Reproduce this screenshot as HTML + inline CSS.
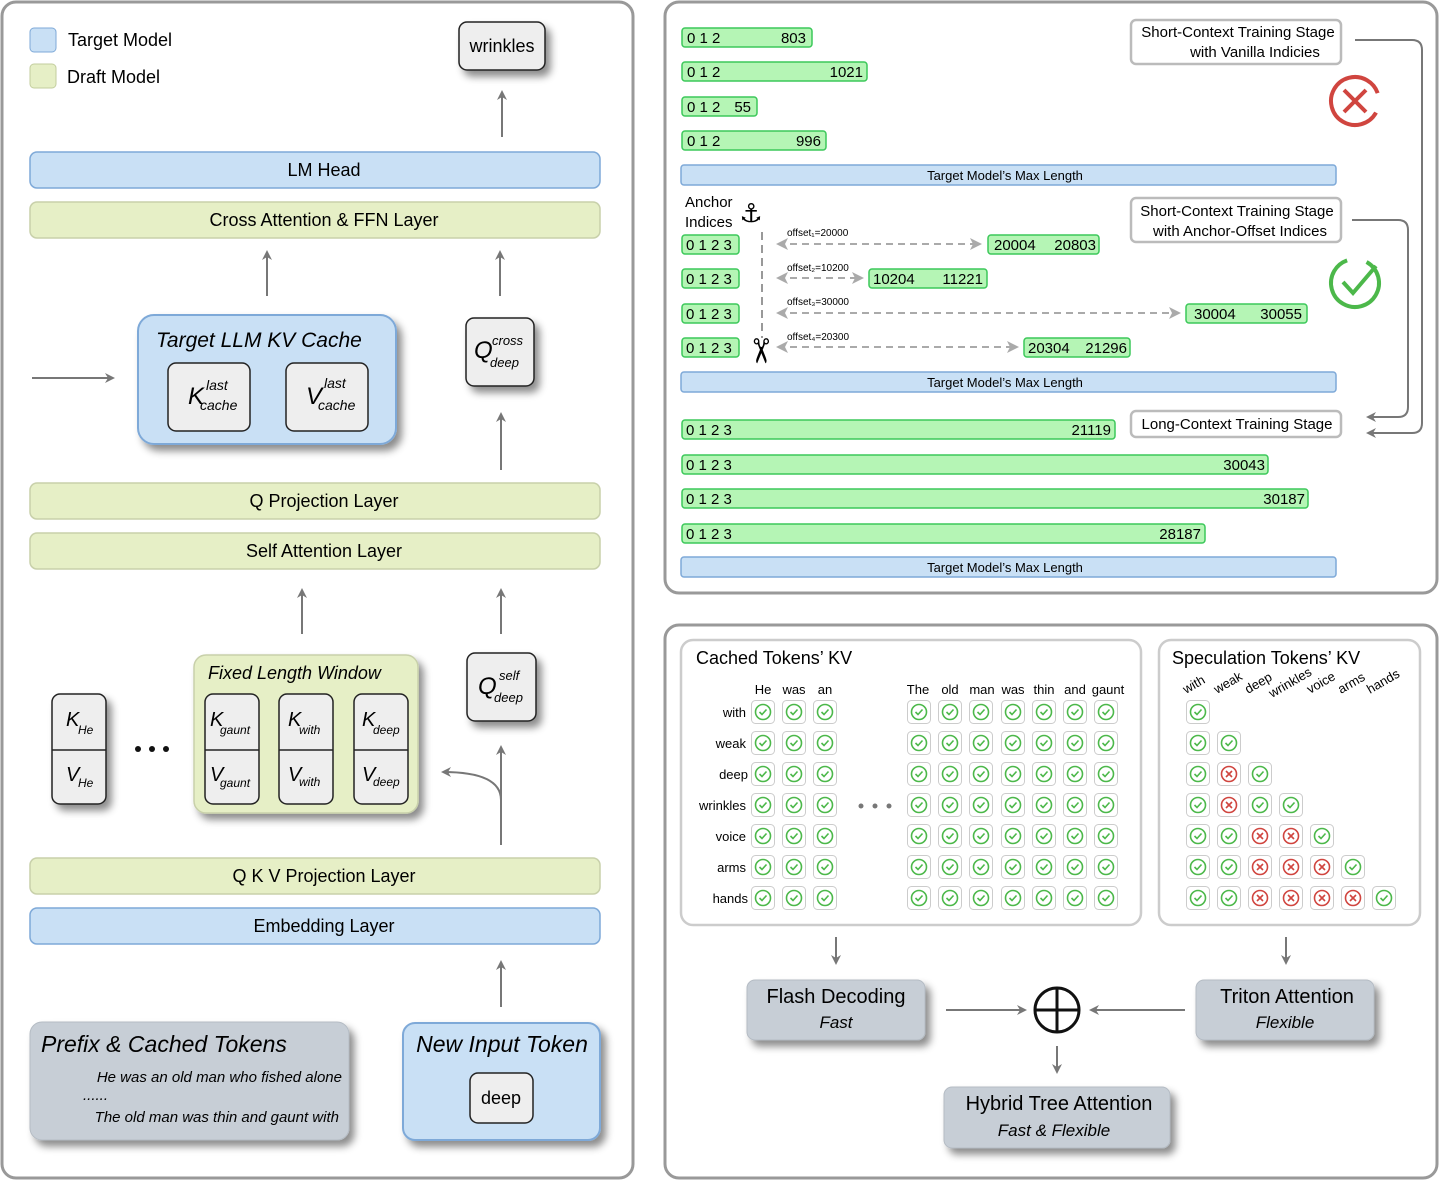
<!DOCTYPE html>
<html><head><meta charset="utf-8"><style>
html,body{margin:0;padding:0;background:#fff;}
svg{display:block;font-family:"Liberation Sans",sans-serif;}
</style></head><body>
<svg width="1440" height="1182" viewBox="0 0 1440 1182" xmlns="http://www.w3.org/2000/svg">
<defs>
<filter id="sh" x="-20%" y="-20%" width="150%" height="160%"><feDropShadow dx="5" dy="6" stdDeviation="4" flood-color="#000" flood-opacity="0.45"/></filter>
<marker id="ah" markerWidth="10" markerHeight="10" refX="8" refY="5" orient="auto" markerUnits="userSpaceOnUse"><path d="M0,0 L10,5 L0,10 L3,5 z" fill="#777"/></marker>
<marker id="ag" markerWidth="12" markerHeight="12" refX="10" refY="6" orient="auto-start-reverse" markerUnits="userSpaceOnUse"><path d="M0,0 L12,6 L0,12 L3,6 z" fill="#aaa"/></marker>
<g id="ok"><rect x="0.5" y="0.5" width="23" height="23" rx="4" fill="#fff" stroke="#ccc"/><circle cx="12" cy="12" r="7.5" fill="none" stroke="#4cb84a" stroke-width="1.6"/><path d="M8.5,12 L11,14.5 L15.5,9.5" fill="none" stroke="#4cb84a" stroke-width="1.6"/></g>
<g id="no"><rect x="0.5" y="0.5" width="23" height="23" rx="4" fill="#fff" stroke="#ccc"/><circle cx="12" cy="12" r="7.5" fill="none" stroke="#d0453f" stroke-width="1.6"/><path d="M9,9 L15,15 M15,9 L9,15" stroke="#d0453f" stroke-width="1.6"/></g>
<g id="crow">
<use href="#ok" x="751" y="0"/><use href="#ok" x="782" y="0"/><use href="#ok" x="813" y="0"/>
<use href="#ok" x="907" y="0"/><use href="#ok" x="938" y="0"/><use href="#ok" x="969" y="0"/><use href="#ok" x="1001" y="0"/><use href="#ok" x="1032" y="0"/><use href="#ok" x="1063" y="0"/><use href="#ok" x="1094" y="0"/>
</g>
</defs>

<!-- panels -->
<rect x="2" y="2" width="631" height="1176" rx="14" fill="#fff" stroke="#999" stroke-width="3"/>
<rect x="665" y="2" width="772" height="591" rx="14" fill="#fff" stroke="#999" stroke-width="3"/>
<rect x="665" y="625" width="772" height="553" rx="14" fill="#fff" stroke="#999" stroke-width="3"/>

<!-- LEFT -->
<rect x="30" y="28" width="26" height="24" rx="4" fill="#c9e0f5" stroke="#7ea9d8"/>
<text x="68" y="46" font-size="18">Target Model</text>
<rect x="30" y="64" width="26" height="24" rx="4" fill="#e6efc6" stroke="#c3ce9e"/>
<text x="67" y="83" font-size="18">Draft Model</text>

<rect x="459" y="22" width="86" height="48" rx="8" fill="#eee" stroke="#222" stroke-width="1.5" filter="url(#sh)"/>
<text x="502" y="52" font-size="18" text-anchor="middle">wrinkles</text>
<line x1="502" y1="137" x2="502" y2="92" stroke="#777" stroke-width="2" marker-end="url(#ah)"/>

<rect x="30" y="152" width="570" height="36" rx="7" fill="#c9e0f5" stroke="#7ea9d8" stroke-width="1.5"/>
<text x="324" y="176" font-size="18" text-anchor="middle">LM Head</text>
<rect x="30" y="202" width="570" height="36" rx="7" fill="#e6efc6" stroke="#c8d0aa" stroke-width="1.5"/>
<text x="324" y="226" font-size="18" text-anchor="middle">Cross Attention &amp; FFN Layer</text>

<line x1="267" y1="296" x2="267" y2="252" stroke="#777" stroke-width="2" marker-end="url(#ah)"/>
<line x1="500" y1="296" x2="500" y2="252" stroke="#777" stroke-width="2" marker-end="url(#ah)"/>

<rect x="138" y="315" width="258" height="129" rx="16" fill="#c9e0f5" stroke="#7ea9d8" stroke-width="2" filter="url(#sh)"/>
<text x="156" y="347" font-size="21" font-style="italic">Target LLM KV Cache</text>
<rect x="168" y="363" width="82" height="68" rx="8" fill="#eee" stroke="#222" stroke-width="1.5"/>
<text x="188" y="404" font-size="24" font-style="italic">K</text><text x="206" y="390" font-size="14" font-style="italic">last</text><text x="200" y="410" font-size="14" font-style="italic">cache</text>
<rect x="286" y="363" width="82" height="68" rx="8" fill="#eee" stroke="#222" stroke-width="1.5"/>
<text x="306" y="404" font-size="24" font-style="italic">V</text><text x="324" y="388" font-size="14" font-style="italic">last</text><text x="318" y="410" font-size="14" font-style="italic">cache</text>
<line x1="32" y1="378" x2="113" y2="378" stroke="#777" stroke-width="2" marker-end="url(#ah)"/>

<rect x="466" y="318" width="68" height="68" rx="8" fill="#eee" stroke="#222" stroke-width="1.5" filter="url(#sh)"/>
<text x="474" y="358" font-size="24" font-style="italic">Q</text><text x="492" y="345" font-size="13" font-style="italic">cross</text><text x="490" y="367" font-size="13" font-style="italic">deep</text>
<line x1="501" y1="470" x2="501" y2="414" stroke="#777" stroke-width="2" marker-end="url(#ah)"/>

<rect x="30" y="483" width="570" height="36" rx="7" fill="#e6efc6" stroke="#c8d0aa" stroke-width="1.5"/>
<text x="324" y="507" font-size="18" text-anchor="middle">Q Projection Layer</text>
<rect x="30" y="533" width="570" height="36" rx="7" fill="#e6efc6" stroke="#c8d0aa" stroke-width="1.5"/>
<text x="324" y="557" font-size="18" text-anchor="middle">Self Attention Layer</text>

<line x1="302" y1="634" x2="302" y2="590" stroke="#777" stroke-width="2" marker-end="url(#ah)"/>
<line x1="501" y1="634" x2="501" y2="590" stroke="#777" stroke-width="2" marker-end="url(#ah)"/>

<rect x="194" y="655" width="224" height="158" rx="12" fill="#e6efc6" stroke="#c8d0aa" stroke-width="1.5" filter="url(#sh)"/>
<text x="208" y="679" font-size="18" font-style="italic">Fixed Length Window</text>
<g font-style="italic">
<rect x="205" y="694" width="54" height="110" rx="8" fill="#eee" stroke="#222" stroke-width="1.5"/><line x1="205" y1="750" x2="259" y2="750" stroke="#222" stroke-width="1.5"/>
<text x="210" y="726" font-size="20">K</text><text x="220" y="734" font-size="12">gaunt</text>
<text x="210" y="781" font-size="20">V</text><text x="220" y="787" font-size="12">gaunt</text>
<rect x="279" y="694" width="54" height="110" rx="8" fill="#eee" stroke="#222" stroke-width="1.5"/><line x1="279" y1="750" x2="333" y2="750" stroke="#222" stroke-width="1.5"/>
<text x="288" y="726" font-size="20">K</text><text x="299" y="734" font-size="12">with</text>
<text x="288" y="781" font-size="20">V</text><text x="299" y="786" font-size="12">with</text>
<rect x="354" y="694" width="54" height="110" rx="8" fill="#eee" stroke="#222" stroke-width="1.5"/><line x1="354" y1="750" x2="408" y2="750" stroke="#222" stroke-width="1.5"/>
<text x="362" y="726" font-size="20">K</text><text x="373" y="734" font-size="12">deep</text>
<text x="362" y="781" font-size="20">V</text><text x="373" y="786" font-size="12">deep</text>
<rect x="52" y="694" width="54" height="110" rx="8" fill="#eee" stroke="#222" stroke-width="1.5" filter="url(#sh)"/><line x1="52" y1="750" x2="106" y2="750" stroke="#222" stroke-width="1.5"/>
<text x="66" y="726" font-size="20">K</text><text x="78" y="734" font-size="12">He</text>
<text x="66" y="781" font-size="20">V</text><text x="78" y="787" font-size="12">He</text>
</g>
<circle cx="138" cy="749" r="3" fill="#111"/><circle cx="152" cy="749" r="3" fill="#111"/><circle cx="166" cy="749" r="3" fill="#111"/>

<rect x="467" y="653" width="69" height="68" rx="8" fill="#eee" stroke="#222" stroke-width="1.5" filter="url(#sh)"/>
<text x="478" y="694" font-size="24" font-style="italic">Q</text><text x="499" y="680" font-size="13" font-style="italic">self</text><text x="494" y="702" font-size="13" font-style="italic">deep</text>
<line x1="501" y1="845" x2="501" y2="747" stroke="#777" stroke-width="2" marker-end="url(#ah)"/>
<path d="M501,845 L501,800 Q501,772 443,772" fill="none" stroke="#777" stroke-width="2" marker-end="url(#ah)"/>

<rect x="30" y="858" width="570" height="36" rx="7" fill="#e6efc6" stroke="#c8d0aa" stroke-width="1.5"/>
<text x="324" y="882" font-size="18" text-anchor="middle">Q K V Projection Layer</text>
<rect x="30" y="908" width="570" height="36" rx="7" fill="#c9e0f5" stroke="#7ea9d8" stroke-width="1.5"/>
<text x="324" y="932" font-size="18" text-anchor="middle">Embedding Layer</text>
<line x1="501" y1="1007" x2="501" y2="962" stroke="#777" stroke-width="2" marker-end="url(#ah)"/>

<rect x="30" y="1022" width="319" height="118" rx="12" fill="#c7ced6" stroke="#b5bcc4" filter="url(#sh)"/>
<text x="41" y="1052" font-size="23" font-style="italic">Prefix &amp; Cached Tokens</text>
<g font-size="15" font-style="italic" text-anchor="end">
<text x="342" y="1082">He was an old man who fished alone</text>
<text x="108" y="1100">......</text>
<text x="339" y="1122">The old man was thin and gaunt with</text>
</g>
<rect x="403" y="1023" width="197" height="117" rx="12" fill="#c9e0f5" stroke="#7ea9d8" stroke-width="2" filter="url(#sh)"/>
<text x="502" y="1052" font-size="23" font-style="italic" text-anchor="middle">New Input Token</text>
<rect x="470" y="1073" width="63" height="50" rx="8" fill="#eee" stroke="#222" stroke-width="1.5"/>
<text x="501" y="1104" font-size="18" text-anchor="middle">deep</text>

<!-- RIGHT TOP -->
<g fill="#b5f5b5" stroke="#3cc85a" stroke-width="1.5">
<rect x="682" y="28" width="130" height="19" rx="3"/>
<rect x="682" y="62" width="185" height="19" rx="3"/>
<rect x="682" y="97" width="75" height="19" rx="3"/>
<rect x="682" y="131" width="144" height="19" rx="3"/>
<rect x="682" y="235" width="57" height="19" rx="3"/>
<rect x="682" y="269" width="57" height="19" rx="3"/>
<rect x="682" y="304" width="57" height="19" rx="3"/>
<rect x="682" y="338" width="57" height="19" rx="3"/>
<rect x="988" y="235" width="111" height="19" rx="3"/>
<rect x="869" y="269" width="118" height="19" rx="3"/>
<rect x="1186" y="304" width="121" height="19" rx="3"/>
<rect x="1024" y="338" width="106" height="19" rx="3"/>
<rect x="682" y="420" width="433" height="19" rx="3"/>
<rect x="682" y="455" width="586" height="19" rx="3"/>
<rect x="682" y="489" width="626" height="19" rx="3"/>
<rect x="682" y="524" width="523" height="19" rx="3"/>
</g>
<g font-size="15">
<text x="687" y="43">0 1 2</text><text x="806" y="43" text-anchor="end">803</text>
<text x="687" y="77">0 1 2</text><text x="863" y="77" text-anchor="end">1021</text>
<text x="687" y="112">0 1 2</text><text x="751" y="112" text-anchor="end">55</text>
<text x="687" y="146">0 1 2</text><text x="821" y="146" text-anchor="end">996</text>
<text x="686" y="250">0 1 2 3</text><text x="686" y="284">0 1 2 3</text><text x="686" y="319">0 1 2 3</text><text x="686" y="353">0 1 2 3</text>
<text x="994" y="250">20004</text><text x="1096" y="250" text-anchor="end">20803</text>
<text x="873" y="284">10204</text><text x="983" y="284" text-anchor="end">11221</text>
<text x="1194" y="319">30004</text><text x="1302" y="319" text-anchor="end">30055</text>
<text x="1028" y="353">20304</text><text x="1127" y="353" text-anchor="end">21296</text>
<text x="686" y="435">0 1 2 3</text><text x="1111" y="435" text-anchor="end">21119</text>
<text x="686" y="470">0 1 2 3</text><text x="1265" y="470" text-anchor="end">30043</text>
<text x="686" y="504">0 1 2 3</text><text x="1305" y="504" text-anchor="end">30187</text>
<text x="686" y="539">0 1 2 3</text><text x="1201" y="539" text-anchor="end">28187</text>
</g>
<g fill="#c9e0f5" stroke="#7ea9d8" stroke-width="1.5">
<rect x="681" y="165" width="655" height="20" rx="3"/>
<rect x="681" y="372" width="655" height="20" rx="3"/>
<rect x="681" y="557" width="655" height="20" rx="3"/>
</g>
<g font-size="13" text-anchor="middle">
<text x="1005" y="180">Target Model’s Max Length</text>
<text x="1005" y="387">Target Model’s Max Length</text>
<text x="1005" y="572">Target Model’s Max Length</text>
</g>
<g fill="#fff" stroke="#bbb" stroke-width="2.5">
<rect x="1131" y="20" width="210" height="44" rx="5"/>
<rect x="1131" y="198" width="210" height="44" rx="5"/>
<rect x="1131" y="411" width="210" height="26" rx="5"/>
</g>
<g font-size="15" text-anchor="middle">
<text x="1238" y="37">Short-Context Training Stage</text><text x="1255" y="57">with Vanilla Indicies</text>
<text x="1237" y="216">Short-Context Training Stage</text><text x="1240" y="236">with Anchor-Offset Indices</text>
<text x="1237" y="429">Long-Context Training Stage</text>
</g>
<path d="M1355,40 L1412,40 Q1422,40 1422,50 L1422,423 Q1422,433 1412,433 L1368,433" fill="none" stroke="#777" stroke-width="2" marker-end="url(#ah)"/>
<path d="M1352,220 L1398,220 Q1408,220 1408,230 L1408,407 Q1408,417 1398,417 L1368,417" fill="none" stroke="#777" stroke-width="2" marker-end="url(#ah)"/>
<circle cx="1355" cy="101" r="24" fill="none" stroke="#d0453f" stroke-width="4" stroke-dasharray="130 20" transform="rotate(30 1355 101)"/>
<path d="M1344,90 L1366,112 M1366,90 L1344,112" stroke="#d0453f" stroke-width="4"/>
<circle cx="1355" cy="283" r="24" fill="none" stroke="#4cb84a" stroke-width="4" stroke-dasharray="130 20" transform="rotate(-60 1355 283)"/>
<path d="M1343,282 L1353,293 L1376,266" fill="none" stroke="#4cb84a" stroke-width="4"/>

<text x="685" y="207" font-size="15">Anchor</text><text x="685" y="227" font-size="15">Indices</text>
<text x="751" y="222" font-size="26" text-anchor="middle" fill="#000" font-weight="bold" style="font-family:'DejaVu Sans',sans-serif">⚓︎</text>
<line x1="762" y1="232" x2="762" y2="338" stroke="#999" stroke-width="2" stroke-dasharray="8 5"/>
<text x="761" y="363" font-size="34" text-anchor="middle" fill="#000" transform="rotate(90 761 351)" style="font-family:'DejaVu Sans',sans-serif">✂︎</text>
<g stroke="#aaa" stroke-width="2" stroke-dasharray="7 5" fill="none">
<line x1="778" y1="244" x2="980" y2="244" marker-start="url(#ag)" marker-end="url(#ag)"/>
<line x1="778" y1="278" x2="862" y2="278" marker-start="url(#ag)" marker-end="url(#ag)"/>
<line x1="778" y1="313" x2="1179" y2="313" marker-start="url(#ag)" marker-end="url(#ag)"/>
<line x1="778" y1="347" x2="1017" y2="347" marker-start="url(#ag)" marker-end="url(#ag)"/>
</g>
<g font-size="10">
<text x="787" y="236">offset₁=20000</text>
<text x="787" y="271">offset₂=10200</text>
<text x="787" y="305">offset₃=30000</text>
<text x="787" y="340">offset₄=20300</text>
</g>

<!-- RIGHT BOTTOM -->
<rect x="681" y="640" width="460" height="285" rx="12" fill="#fff" stroke="#ccc" stroke-width="2.5"/>
<rect x="1159" y="640" width="261" height="285" rx="12" fill="#fff" stroke="#ccc" stroke-width="2.5"/>
<text x="696" y="664" font-size="18">Cached Tokens’ KV</text>
<text x="1172" y="664" font-size="18">Speculation Tokens’ KV</text>
<g font-size="13" text-anchor="middle">
<text x="763" y="694">He</text><text x="794" y="694">was</text><text x="825" y="694">an</text>
<text x="918" y="694">The</text><text x="950" y="694">old</text><text x="982" y="694">man</text><text x="1013" y="694">was</text><text x="1044" y="694">thin</text><text x="1075" y="694">and</text><text x="1108" y="694">gaunt</text>
</g>
<g font-size="13" text-anchor="end">
<text x="746" y="717">with</text><text x="746" y="748">weak</text><text x="748" y="779">deep</text><text x="746" y="810">wrinkles</text><text x="746" y="841">voice</text><text x="746" y="872">arms</text><text x="748" y="903">hands</text>
</g>
<g font-size="13">
<text transform="translate(1186,694) rotate(-30)">with</text>
<text transform="translate(1217,694) rotate(-30)">weak</text>
<text transform="translate(1248,694) rotate(-30)">deep</text>
<text transform="translate(1272,698) rotate(-30)">wrinkles</text>
<text transform="translate(1310,694) rotate(-30)">voice</text>
<text transform="translate(1341,694) rotate(-30)">arms</text>
<text transform="translate(1370,694) rotate(-30)">hands</text>
</g>
<circle cx="861" cy="806" r="2.5" fill="#777"/><circle cx="875" cy="806" r="2.5" fill="#777"/><circle cx="889" cy="806" r="2.5" fill="#777"/>

<use href="#crow" x="0" y="700"/><use href="#crow" x="0" y="731"/><use href="#crow" x="0" y="762"/><use href="#crow" x="0" y="793"/><use href="#crow" x="0" y="824"/><use href="#crow" x="0" y="855"/><use href="#crow" x="0" y="886"/>

<use href="#ok" x="1186" y="700"/>
<use href="#ok" x="1186" y="731"/><use href="#ok" x="1217" y="731"/>
<use href="#ok" x="1186" y="762"/><use href="#no" x="1217" y="762"/><use href="#ok" x="1248" y="762"/>
<use href="#ok" x="1186" y="793"/><use href="#no" x="1217" y="793"/><use href="#ok" x="1248" y="793"/><use href="#ok" x="1279" y="793"/>
<use href="#ok" x="1186" y="824"/><use href="#ok" x="1217" y="824"/><use href="#no" x="1248" y="824"/><use href="#no" x="1279" y="824"/><use href="#ok" x="1310" y="824"/>
<use href="#ok" x="1186" y="855"/><use href="#ok" x="1217" y="855"/><use href="#no" x="1248" y="855"/><use href="#no" x="1279" y="855"/><use href="#no" x="1310" y="855"/><use href="#ok" x="1341" y="855"/>
<use href="#ok" x="1186" y="886"/><use href="#ok" x="1217" y="886"/><use href="#no" x="1248" y="886"/><use href="#no" x="1279" y="886"/><use href="#no" x="1310" y="886"/><use href="#no" x="1341" y="886"/><use href="#ok" x="1372" y="886"/>

<line x1="836" y1="937" x2="836" y2="963" stroke="#777" stroke-width="2" marker-end="url(#ah)"/>
<line x1="1286" y1="937" x2="1286" y2="963" stroke="#777" stroke-width="2" marker-end="url(#ah)"/>

<rect x="747" y="980" width="178" height="60" rx="8" fill="#c7ced6" stroke="#b5bcc4" filter="url(#sh)"/>
<text x="836" y="1003" font-size="20" text-anchor="middle">Flash Decoding</text>
<text x="836" y="1028" font-size="17" font-style="italic" text-anchor="middle">Fast</text>
<rect x="1196" y="980" width="178" height="60" rx="8" fill="#c7ced6" stroke="#b5bcc4" filter="url(#sh)"/>
<text x="1287" y="1003" font-size="20" text-anchor="middle">Triton Attention</text>
<text x="1285" y="1028" font-size="17" font-style="italic" text-anchor="middle">Flexible</text>
<circle cx="1057" cy="1010" r="22" fill="#fff" stroke="#111" stroke-width="3"/>
<path d="M1035,1010 L1079,1010 M1057,988 L1057,1032" stroke="#111" stroke-width="3"/>
<line x1="946" y1="1010" x2="1025" y2="1010" stroke="#777" stroke-width="2" marker-end="url(#ah)"/>
<line x1="1185" y1="1010" x2="1091" y2="1010" stroke="#777" stroke-width="2" marker-end="url(#ah)"/>
<line x1="1057" y1="1046" x2="1057" y2="1072" stroke="#777" stroke-width="2" marker-end="url(#ah)"/>
<rect x="944" y="1087" width="226" height="61" rx="8" fill="#c7ced6" stroke="#b5bcc4" filter="url(#sh)"/>
<text x="1059" y="1110" font-size="20" text-anchor="middle">Hybrid Tree Attention</text>
<text x="1054" y="1136" font-size="17" font-style="italic" text-anchor="middle">Fast &amp; Flexible</text>
</svg>
</body></html>
